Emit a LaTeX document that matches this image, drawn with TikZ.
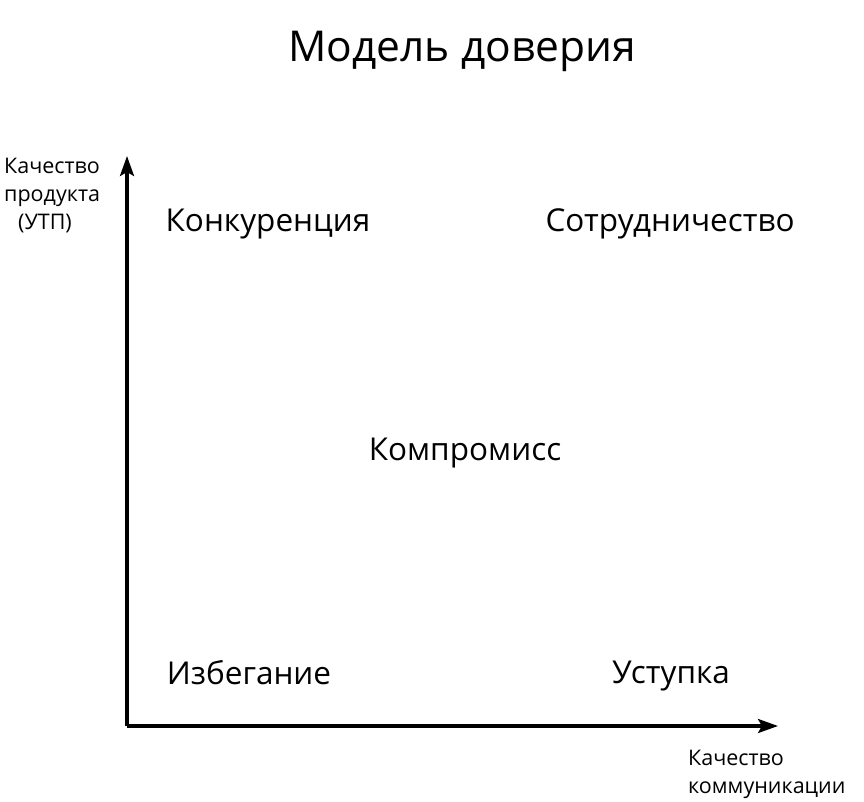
\documentclass[tikz,border=0pt]{standalone}
\usepackage{fontspec}
\setmainfont{Open Sans}
\usetikzlibrary{arrows.meta}
\begin{document}
\begin{tikzpicture}[x=1pt,y=-1pt]
    \useasboundingbox (0,0) rectangle (864,802);
    \tikzset{
        quad/.style={font=\fontsize{31.5}{36}\selectfont},
        axislabel/.style={font=\fontsize{21.5}{28}\selectfont, align=left, inner sep=0pt},
        axis/.style={draw=black, line width=3.2pt, -{Stealth[length=20pt,width=14pt,inset=4pt]}}
    }
    \node (title) at (462,51) {\fontsize{42.5}{46}\selectfont Модель доверия};
    \coordinate (origin) at (127,726);
    \coordinate (ytop) at (127,156);
    \coordinate (xend) at (778,726);
    \draw [axis] (origin) to (ytop);
    \draw [axis] (origin) to (xend);
    \node[axislabel, anchor=north west] (ylab) at (4,158) {Качество\\продукта\\\hspace{14pt}(УТП)};
    \node[axislabel, anchor=north west] (xlab) at (688,750) {Качество\\коммуникации};
    \node[quad] (compet) at (268,224) {Конкуренция};
    \node[quad] (collab) at (670,224) {Сотрудничество};
    \node[quad] (comprom) at (465,453) {Компромисс};
    \node[quad] (avoid) at (249,673) {Избегание};
    \node[quad] (concede) at (671,676) {Уступка};
\end{tikzpicture}
\end{document}
